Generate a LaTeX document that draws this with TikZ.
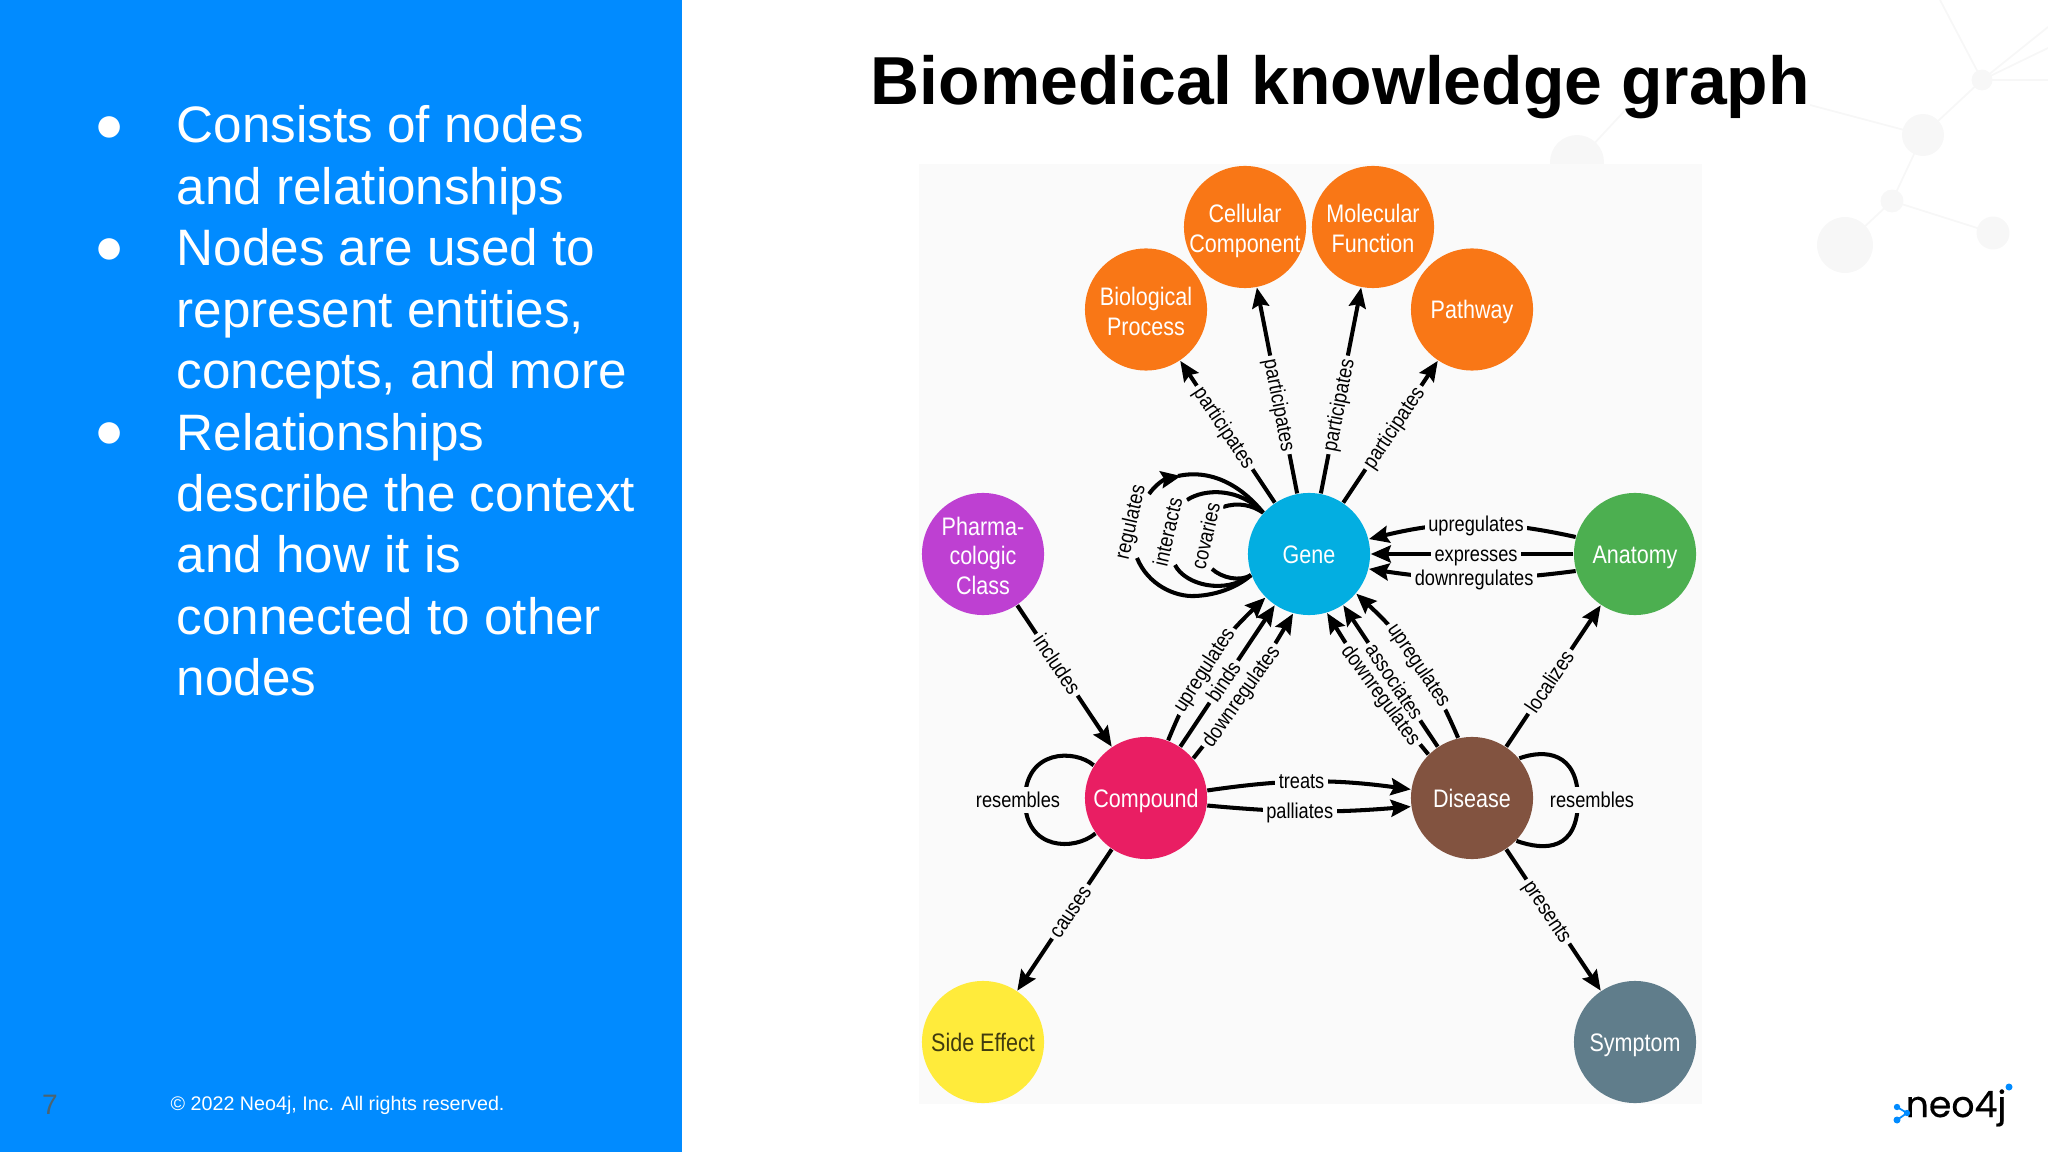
\documentclass[tikz,border=0pt]{standalone}
\usepackage{fontspec}
\setmainfont{Liberation Sans}
\newfontfamily\graphfont[FakeStretch=0.85]{Liberation Sans}
\newfontfamily\logofont[FakeBold=0.5]{Poppins}
\usetikzlibrary{arrows.meta}
\definecolor{neoblue}{HTML}{018BFF}
\definecolor{panelgrey}{HTML}{FAFAFA}
\definecolor{marklight}{HTML}{F7F7F7}
\definecolor{orangenode}{HTML}{F97716}
\definecolor{genenode}{HTML}{03AEE1}
\definecolor{anatomynode}{HTML}{4CAF50}
\definecolor{pharmanode}{HTML}{BE40D2}
\definecolor{compoundnode}{HTML}{E91E63}
\definecolor{diseasenode}{HTML}{825340}
\definecolor{sidenode}{HTML}{FFEB3B}
\definecolor{symptomnode}{HTML}{607D8B}
\newcommand{\nodestrut}{\rule[-1.4pt]{0pt}{8.25pt}}
\newcommand{\topstrut}{\rule{0pt}{7.6pt}}
\tikzset{
  entity/.style={circle,minimum size=1.22cm,inner sep=-3pt,text=white,align=center,
    execute at begin node=\nodestrut,execute at end node=\nodestrut,
    font=\graphfont\fontsize{7.2}{8.5}\selectfont},
  rel/.style={line width=1.15pt,-{Stealth[length=0.2cm,width=0.17cm,inset=0.03cm]}},
  plainrel/.style={line width=1.15pt},
  lbl/.style={fill=panelgrey,inner ysep=0pt,inner xsep=1pt,text=black,
    text height=4.9pt,text depth=0.9pt,
    font=\graphfont\fontsize{6.1}{7}\selectfont},
  markdot/.style={fill=marklight},
  markline/.style={draw=marklight,line width=0.5pt},
  logodot/.style={fill=neoblue}
}
\begin{document}
\begin{tikzpicture}[x=0.01cm,y=-0.01cm]
  \useasboundingbox (0,0) rectangle (2048,1152);
  %Left panel
  \fill[neoblue] (0,0) rectangle (682,1152);
  \node[anchor=center,text=white,font=\fontsize{14.2}{14.2}\selectfont] (bulleta) at (110,129) {●};
  \node[anchor=center,text=white,font=\fontsize{14.2}{14.2}\selectfont] (bulletb) at (110,251) {●};
  \node[anchor=center,text=white,font=\fontsize{14.2}{14.2}\selectfont] (bulletc) at (110,435) {●};
  \node[anchor=north west,inner sep=0pt,align=left,text=white,font=\fontsize{14.57}{17.47}\selectfont] (bullets) at (176,105)
    {Consists of nodes\\and relationships\\Nodes are used to\\represent entities,\\concepts, and more\\Relationships\\describe the context\\and how it is\\connected to other\\nodes};
  \node[text=white,anchor=base west,inner sep=0pt,font=\fontsize{5.6}{7}\selectfont] (copyright) at (170,1110) {© 2022 Neo4j, Inc. All rights reserved.};
  \node[text=symptomnode!80!black,font=\fontsize{8}{9}\selectfont] (pagenum) at (50,1105) {7};
  %Watermark top right
  \draw[markline] (1982,80) -- (1940,0);
  \draw[markline] (1982,80) -- (2048,27);
  \draw[markline] (1982,80) -- (2048,48);
  \draw[markline] (1982,80) -- (2048,80);
  \draw[markline] (1982,80) -- (1923,135);
  \draw[markline] (1923,135) -- (1892,201);
  \draw[markline] (1923,135) -- (1810,105);
  \draw[markline] (1892,201) -- (1845,245);
  \draw[markline] (1892,201) -- (1993,233);
  \draw[markline] (1577,162) -- (1630,105);
  \fill[markdot] (1982,80) circle (10.5);
  \fill[markdot] (1923,135) circle (21);
  \fill[markdot] (1892,201) circle (11.5);
  \fill[markdot] (1845,245) circle (28);
  \fill[markdot] (1993,233) circle (16.5);
  \fill[markdot] (1577,162) circle (27);
  %Title
  \node[anchor=base west,inner sep=0pt,font=\bfseries\fontsize{19.3}{22}\selectfont] (title) at (870,105) {Biomedical knowledge graph};
  %Graph panel
  \fill[panelgrey] (919,164) rectangle (1702,1104);
  \node[entity,fill=orangenode] (bio) at (1146,309.5) {\topstrut Biological\\Process};
  \node[entity,fill=orangenode] (cellular) at (1245,227) {\topstrut Cellular\\Component};
  \node[entity,fill=orangenode] (molecular) at (1373,227) {\topstrut Molecular\\Function};
  \node[entity,fill=orangenode] (pathway) at (1472,309.5) {Pathway};
  \node[entity,fill=pharmanode] (pharma) at (983,554) {\topstrut Pharma-\\cologic\\Class};
  \node[entity,fill=genenode] (gene) at (1309,554) {Gene};
  \node[entity,fill=anatomynode] (anatomy) at (1635,554) {Anatomy};
  \node[entity,fill=compoundnode] (compound) at (1146,798) {Compound};
  \node[entity,fill=diseasenode] (disease) at (1472,798) {Disease};
  \node[entity,fill=sidenode,text=black!75!sidenode] (side) at (983,1042) {Side Effect};
  \node[entity,fill=symptomnode] (symptom) at (1635,1042) {Symptom};
  %Edges out of gene
  \draw[rel] (gene) -- node[lbl,sloped,pos=0.53]{participates} (bio);
  \draw[rel] (gene) -- node[lbl,sloped,pos=0.43]{participates} (cellular);
  \draw[rel] (gene) -- node[lbl,sloped,pos=0.43]{participates} (molecular);
  \draw[rel] (gene) -- node[lbl,sloped,pos=0.53]{participates} (pathway);
  %Gene self loops
  \draw[rel] (1149,494) .. controls (1156,484) and (1165,479) .. (1181,476);
  \draw[plainrel] (1178,476) .. controls (1215,468) and (1245,490) .. (gene.138);
  \draw[plainrel] (1137,558) .. controls (1148,585) and (1175,597) .. (1195,596) .. controls (1220,595) and (1240,585) .. (gene.200);
  \draw[plainrel] (1187,500) .. controls (1205,488) and (1240,488) .. (gene.138);
  \draw[plainrel] (1175,565) .. controls (1185,585) and (1225,595) .. (gene.200);
  \draw[plainrel] (1223,507) .. controls (1238,502) and (1252,505) .. (gene.138);
  \draw[plainrel] (1212,569) .. controls (1222,578) and (1240,582) .. (gene.200);
  \node[lbl,rotate=77] (regulates) at (1130,522) {regulates};
  \node[lbl,rotate=77] (interacts) at (1168,532) {interacts};
  \node[lbl,rotate=77] (covaries) at (1206,536) {covaries};
  %Anatomy to gene
  \draw[rel] (anatomy.164) to[bend right=13] node[lbl,pos=0.48]{upregulates} (gene.14);
  \draw[rel] (anatomy) -- node[lbl,pos=0.48]{expresses} (gene);
  \draw[rel] (anatomy.196) to[bend left=8] node[lbl,pos=0.49]{downregulates} (gene.346);
  %Compound to gene
  \draw[rel] (compound.69) to[bend left=12] node[lbl,sloped,pos=0.45]{upregulates} (gene.225);
  \draw[rel] (compound) -- node[lbl,sloped,pos=0.46]{binds} (gene);
  \draw[rel] (compound.40) to[bend right=4] node[lbl,sloped,pos=0.44]{downregulates} (gene.255);
  %Disease to gene
  \draw[rel] (disease.103) to[bend right=12] node[lbl,sloped,pos=0.46]{upregulates} (gene.320);
  \draw[rel] (disease) -- node[lbl,sloped,pos=0.46]{associates} (gene);
  \draw[rel] (disease.135) to[bend left=4] node[lbl,sloped,pos=0.43]{downregulates} (gene.287);
  %Compound to disease
  \draw[rel] (compound.7) to[bend left=8] node[lbl,pos=0.46]{treats} (disease.172);
  \draw[rel] (compound.353) to[bend right=5] node[lbl,pos=0.45]{palliates} (disease.188);
  %Remaining edges
  \draw[rel] (pharma) -- node[lbl,sloped,pos=0.42]{includes} (compound);
  \draw[rel] (compound) -- node[lbl,sloped,pos=0.44]{causes} (side);
  \draw[rel] (disease) -- node[lbl,sloped,pos=0.44]{presents} (symptom);
  \draw[rel] (disease) -- node[lbl,sloped,pos=0.46]{localizes} (anatomy);
  %Resembles loops
  \draw[plainrel] (compound.148) .. controls (1075,749) and (1025,749) .. (1025,800) .. controls (1025,851) and (1075,851) .. (compound.215);
  \draw[plainrel] (disease.40) .. controls (1545,749) and (1578,752) .. (1578,800) .. controls (1578,851) and (1545,851) .. (disease.316);
  \node[lbl,inner ysep=0.8pt] (resemblesa) at (1018,800) {resembles};
  \node[lbl,inner ysep=0.8pt] (resemblesb) at (1592,800) {resembles};
  %Logo
  \node[anchor=base west,inner sep=0pt,font=\logofont\fontsize{10.3}{12}\selectfont] (logotext) at (1905,1117) {neo4j};
  \draw[neoblue,line width=0.5pt] (1897,1107) -- (1907,1113) -- (1897,1120);
  \fill[logodot] (1897,1107) circle (3.2);
  \fill[logodot] (1907,1113) circle (3.2);
  \fill[logodot] (1897,1120) circle (3.5);
  \fill[logodot] (2009,1087) circle (3.5);
\end{tikzpicture}
\end{document}
